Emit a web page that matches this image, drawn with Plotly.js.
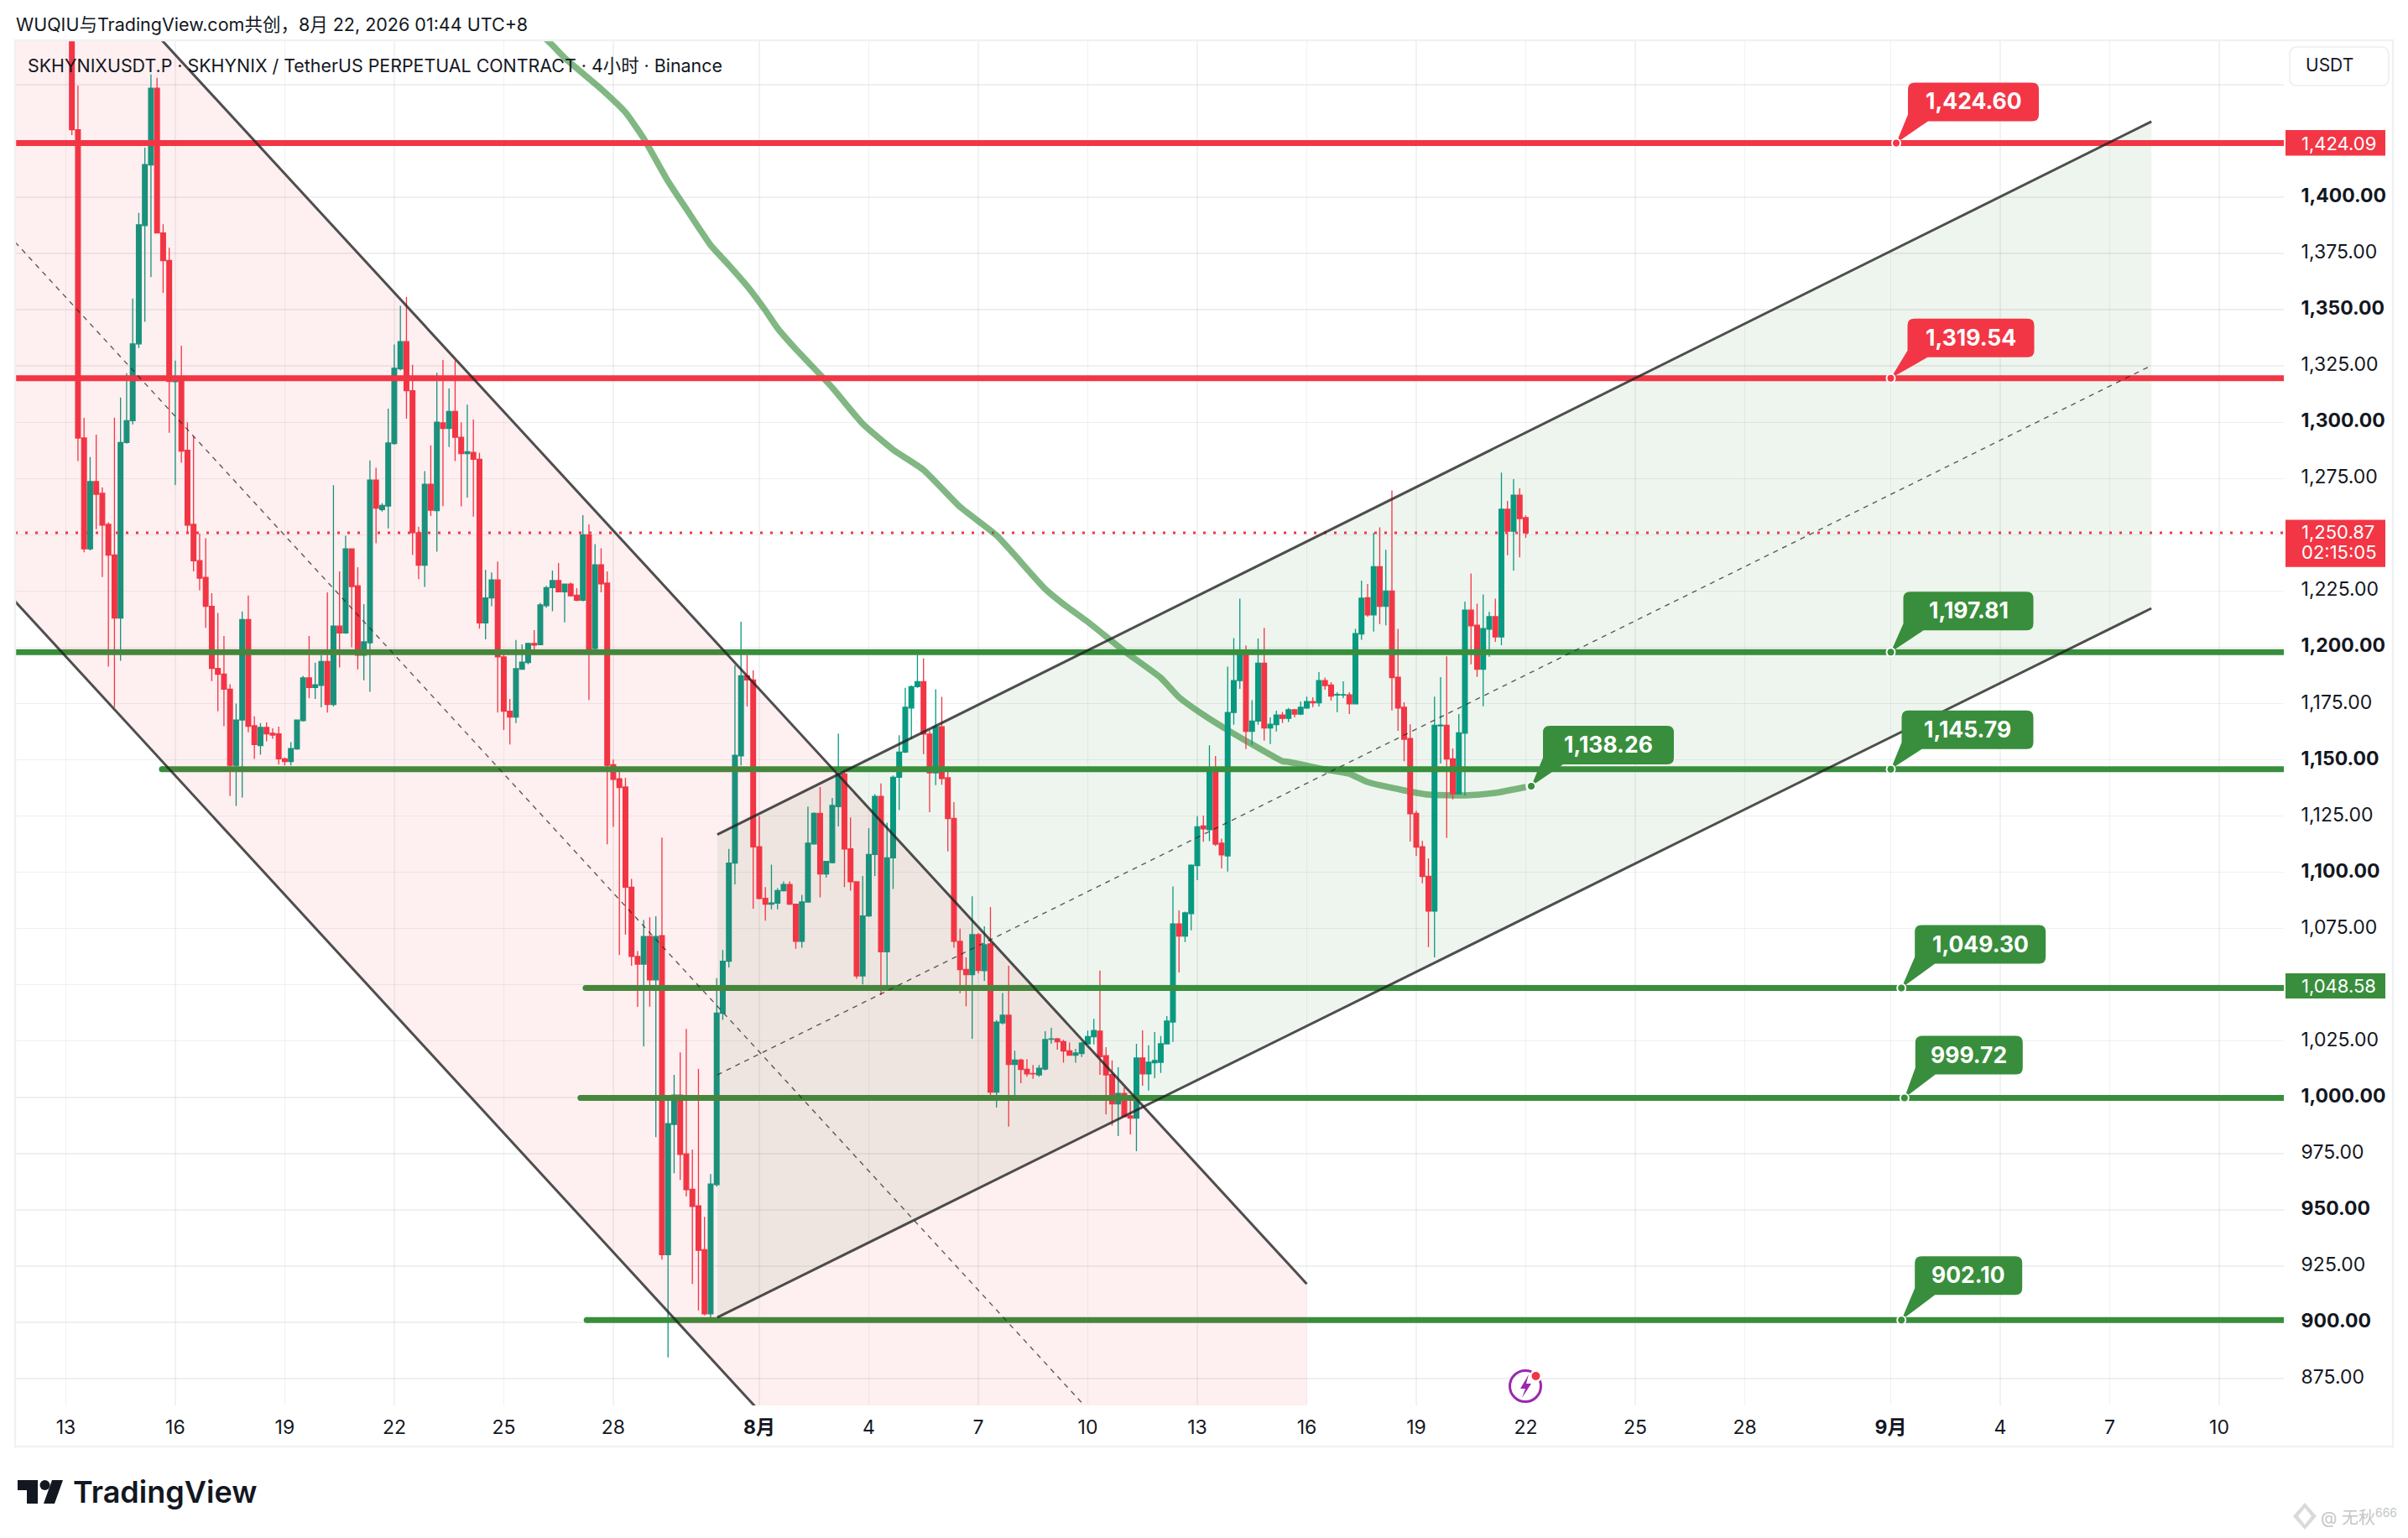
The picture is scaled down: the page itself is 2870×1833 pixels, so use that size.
<!DOCTYPE html>
<html>
<head>
<meta charset="utf-8">
<script src="https://cdn.plot.ly/plotly-3.0.1.min.js"></script>
<style>html,body{margin:0;padding:0;background:#fff}#c{width:2870px;height:1833px}</style>
</head>
<body>
<div id="c"></div>
<script>
// ---- data ----
const firstBar = "2026-07-13T04:00:00Z";
const open = [1500,1430,1293,1243.7,1273.6,1268.4,1254.6,1241,1213,1291,
1300.7,1334.8,1387.4,1414.3,1448.4,1384.1,1371.9,1318,1318.4,1287.5,
1254.6,1238.5,1231,1218.2,1190.6,1188.1,1181.4,1147.5,1167.7,1212.3,
1165.1,1156.3,1164.4,1161.8,1161.5,1150.4,1149.2,1154.8,1167.4,1186.4,
1182.1,1183.1,1193.7,1174.6,1209.4,1206.4,1243.7,1227.3,1196.5,1202,
1274.3,1261.2,1262.8,1290.5,1323.7,1335.8,1314,1250.9,1236.5,1272.4,
1260.7,1299.7,1297.2,1304.8,1293.3,1286.1,1286.6,1283.5,1210.8,1221.9,
1229.9,1195.7,1171.6,1169,1190.2,1193.2,1201.7,1201.1,1218.5,1226.5,
1229.6,1224.6,1228.1,1223.1,1220.9,1250,1199.5,1236.6,1228.5,1147.8,
1141.6,1137.9,1093.4,1062.6,1059.2,1071.5,1052.2,1071.8,930.1,988,
1001,974.9,959.1,951.8,932.3,903.8,961.2,1037.4,1060.5,1104.1,
1151.7,1187.3,1185.5,1111.4,1088.4,1085.8,1086.3,1091.8,1094.6,1085.8,
1069.3,1086.8,1112.6,1126.2,1099.3,1104.3,1129.2,1143.7,1110.4,1095.8,
1054,1080.6,1107.9,1133.7,1064.7,1106.4,1142.2,1153.4,1173,1182.5,
1184.7,1161.4,1144.2,1164.7,1142,1123.9,1069.3,1056.8,1054.5,1072.3,
1056.3,1068.2,1002.3,1033.1,1036.5,1014.6,1016.6,1012.5,1010.6,1010,
1012.6,1025.8,1026,1024.8,1020.7,1018.7,1019.5,1023.8,1026.9,1029.4,
1018.5,1010.1,997.1,1001.7,991.8,990.8,1017.5,1010.4,1015.4,1015.6,
1023.8,1033.5,1077.1,1071.7,1081.6,1103,1120.6,1118.9,1145,1112.9,
1107.3,1171,1185.2,1196.7,1162.6,1167.2,1192.9,1164.1,1165.6,1169.9,
1168.4,1172.2,1170.3,1173,1175.9,1175.3,1185.2,1183.2,1178.8,1178.8,
1178.8,1174.9,1205.9,1222,1214.4,1235.8,1218.2,1225,1186.7,1173.3,
1159.5,1126.2,1111.4,1098.2,1082.8,1165.1,1165.3,1150.4,1134.9,1161.8,
1216.5,1209.8,1190.2,1208,1213.6,1204.6,1261.3,1251.6,1267.6,1257.6];
const high = [1510,1449.6,1301.9,1284.5,1294.5,1271,1255.5,1302,1311,1321.8,
1355,1393,1422,1454.6,1453,1388,1377.5,1327.4,1334,1300,
1293.8,1250.6,1248.4,1224,1215.3,1205,1183.6,1175,1215.9,1223,
1169.3,1166.3,1166.6,1164,1164.7,1151,1157.8,1167.7,1187.3,1205,
1193.2,1196.4,1224.4,1272,1233.7,1249.6,1244,1235.6,1219.2,1283,
1279.8,1264,1306,1334.6,1351.7,1355.7,1325.5,1253.6,1278.3,1289.7,
1322,1327.7,1315,1327.4,1300,1307.8,1301.2,1286.4,1234.4,1233.2,
1238.1,1197,1177,1203.2,1201.3,1202,1207.6,1219.7,1227.3,1234.1,
1237.4,1228.1,1228.8,1226.3,1258.7,1254.6,1245.8,1244,1233.7,1150.1,
1145.3,1142,1097.1,1065,1078.8,1080,1080.5,1115.4,1001,1010,
1020,1030.4,976.8,1012.6,946.9,965.9,1053,1065.5,1110.4,1192,
1211.3,1196.6,1189.7,1125,1093.4,1103.4,1093,1095.9,1095.9,1086,
1090,1129.2,1126.7,1137.9,1105,1133,1161.7,1145,1124.4,1096,
1098.4,1119.6,1134.7,1139.5,1122,1143,1160.9,1182,1183,1196.6,
1195,1163,1181.3,1178,1145,1131.2,1075,1062.2,1089.3,1073,
1076,1084.6,1034.3,1046.4,1058.5,1020.7,1017.2,1017,1014.4,1014.4,
1029.4,1030.9,1026.4,1025.6,1024.4,1021.6,1024.6,1029.7,1034.9,1056.3,
1022.3,1016.4,1013.4,1004.4,1000,1023.8,1029.8,1023.1,1029,1027.2,
1036.1,1093.7,1083.1,1082.5,1103.5,1124.9,1125.2,1156.4,1151.7,1115,
1191.4,1204.1,1221.6,1200.8,1176.5,1203.9,1208.6,1168.8,1171.8,1171.3,
1173,1172.6,1175.9,1178.1,1177.8,1189,1186.5,1184.5,1180,1184.9,
1180,1208.2,1229.6,1228.1,1250.9,1253.3,1243.3,1269.7,1208.2,1175.5,
1165.8,1127.4,1114,1106.2,1178.1,1186.7,1196,1155,1170.3,1220.3,
1232.8,1219.4,1223.5,1215.7,1221.6,1277.6,1265,1274.7,1270.6,1258.6];
const low = [1427.6,1282.7,1242.2,1243,1252.4,1231.2,1191.4,1173.4,1194,1290.5,
1299,1333,1344.6,1364.5,1384,1357.5,1295.3,1272.1,1282,1250.6,
1233.7,1225.3,1208.6,1185,1171.5,1164.9,1133.9,1129.5,1133.2,1162.2,
1150.4,1152.2,1158.2,1159.3,1147.9,1147.5,1147.5,1154.5,1167,1177.4,
1177,1173.3,1171,1173.7,1191,1206,1200,1190.2,1185.3,1180.2,
1246.2,1260.3,1252.8,1290,1323,1301.6,1241,1230.3,1226.8,1258.3,
1242.5,1262.7,1289,1282.7,1262.6,1266.5,1258,1208.3,1203.5,1218.2,
1171,1163.2,1156.8,1166.3,1190,1192.4,1199,1201,1217.6,1216,
1224.4,1211.1,1222.5,1220.5,1220.4,1176.6,1199,1224.4,1112.4,1120.2,
1063.2,1072.3,1058.5,1040.2,1022.7,1040.3,982.3,927.9,884.4,966.3,
963.3,955.9,917.1,905.3,903.1,902.2,960.3,1034.4,1057.7,1094.6,
1147.5,1173.7,1083.8,1088,1078.5,1083.5,1083.5,1091.5,1085.5,1066,
1066.5,1086.5,1112.3,1088.9,1097.6,1104,1120.4,1093.4,1091.8,1052.7,
1050.2,1080.2,1098.4,1045.5,1049.8,1092.6,1127.6,1153,1159.2,1182,
1152.5,1126.7,1138.7,1138.9,1109.3,1066.5,1046.3,1040.5,1026,1055,
1051.8,1000.5,995.5,1032.4,987,1000.5,1006.3,1009.2,1008.2,1009.2,
1012,1023.8,1021.2,1015.4,1018.5,1015.4,1017.9,1023.5,1023.5,1010,
992.4,987.4,982.8,991.2,983.5,976.1,1005.2,1003,1008.5,1010.8,
1023.5,1024.6,1055.5,1069,1074.2,1096.5,1113.6,1113.8,1111.7,1101.7,
1100.3,1165.6,1181.5,1154.8,1156.6,1165.6,1158.5,1157,1162.6,1166.3,
1166.8,1168.8,1169.9,1172.6,1173.4,1173.7,1181.1,1176.3,1171.2,1177.4,
1170.3,1174.6,1203.3,1213.6,1207,1210.3,1209.8,1171.9,1162.9,1149.4,
1113.7,1107.3,1095.1,1066.8,1062.2,1148.3,1115.2,1132.4,1134.5,1134.2,
1192.4,1186.8,1173.8,1195.8,1202.4,1200.9,1240.9,1234.1,1240,1248.6];
const close = [1430,1293,1243.7,1273.6,1268,1254.3,1240.9,1213,1291,1300.7,
1334.8,1387.7,1414.5,1448.4,1384.1,1371.8,1318.1,1318.4,1287.2,1254.3,
1238.4,1230.7,1218.2,1190.6,1188,1181.4,1147.5,1167.7,1212.3,1164.9,
1156.8,1164.4,1161.5,1161,1150.4,1149.2,1155,1167.7,1186.4,1182.1,
1183.3,1193.7,1174.6,1209.4,1206.4,1243.7,1227,1196.5,1202.4,1274.3,
1261.8,1263,1290.8,1324,1335.8,1314,1250.9,1236.5,1272.4,1260.9,
1300,1297.2,1304.8,1293.3,1286.1,1286.9,1283.5,1210.8,1221.9,1229.9,
1195.7,1171.6,1169,1190.5,1193.4,1201.7,1201,1218.8,1226.5,1229.6,
1224.6,1228.1,1222.9,1220.9,1250,1199,1236.6,1228.2,1147.5,1141.3,
1137.7,1093.4,1062.6,1059.2,1071.5,1052.2,1071.5,930.1,988.3,1001,
974.6,959,951.5,932,903.8,961.5,1037.4,1060.5,1104.1,1152,
1187.3,1185.5,1111.3,1088.4,1085.8,1086.4,1091.9,1094.6,1085.8,1069.3,
1086.8,1112.9,1126.2,1099.3,1104.8,1129.7,1143.7,1110.4,1095.8,1054,
1080.6,1107.9,1133.7,1064.7,1106.4,1142.2,1153.4,1173.3,1182.5,1184.7,
1161.4,1144.2,1164.7,1141.7,1123.9,1069.3,1056.8,1054.5,1072.3,1056.4,
1067.8,1002.3,1033.4,1036.5,1014.6,1016.6,1012.4,1010.4,1010.4,1012.9,
1025.7,1026,1024.7,1020.6,1018.7,1019.7,1024.1,1027,1029.7,1018.1,
1010,997.1,1001.7,991.4,990.8,1017.5,1010.4,1015.6,1016.4,1023.8,
1033.9,1077.1,1071.7,1082,1103.2,1120.2,1119.3,1145.5,1112.5,1107.7,
1171,1185.2,1197,1162.6,1167.2,1192.9,1164.1,1165.8,1169.9,1168.4,
1172.2,1170.3,1173.3,1175.9,1175.3,1185.2,1183,1178.3,1179,1178.9,
1174.9,1206.1,1221.8,1214.4,1235.8,1218.2,1225,1186.5,1173,1159.1,
1126,1111.2,1098.1,1082.8,1165.3,1165.4,1150.3,1134.9,1162,1216.5,
1209.5,1190.2,1208.3,1213.6,1204.6,1261.3,1251.6,1267.6,1257.2,1250.87];

const maSlots  = [78,80,82,88,92,95,99,102,106,109,112,115,117,120,126,131,136,141,147,153,161,164,168,174,180,183,187,191,195,200,201,207,211,214,220,224,230,235,240];
const maValues = [1472.7,1467.5,1461.9,1448.1,1437.7,1426.1,1407.1,1394.8,1378.7,1369.8,1360.5,1349.7,1341.8,1332.5,1315.4,1299.3,1287.8,1278.8,1262.4,1249.7,1225.9,1219.2,1211.3,1198.3,1186.4,1177.8,1170,1163.2,1156.9,1149.4,1149.1,1145.7,1143.8,1140.1,1136.4,1134.5,1134.2,1135.3,1137.9];

const priceTicks = [1450,1425,1400,1375,1350,1325,1300,1275,1250,1225,1200,1175,1150,1125,1100,1075,1050,1025,1000,975,950,925,900,875];
const coveredTicks = [1450,1425,1250,1050];
const dateTicks = ["2026-07-13","2026-07-16","2026-07-19","2026-07-22","2026-07-25","2026-07-28","2026-08-01","2026-08-04","2026-08-07","2026-08-10","2026-08-13","2026-08-16","2026-08-19","2026-08-22","2026-08-25","2026-08-28","2026-09-01","2026-09-04","2026-09-07","2026-09-10"];
const dateLabels = ["13","16","19","22","25","28","<b>8月</b>","4","7","10","13","16","19","22","25","28","<b>9月</b>","4","7","10"];

const levelPrices = [1424.09,1319.54,1197.81,1145.79,1048.58,999.72,901.0];
const levelStarts = [null,null,null,"2026-07-15 15:10","2026-07-27 05:46","2026-07-27 02:24","2026-07-27 06:29"];
const calloutLabels = ["1,424.60","1,319.54","1,197.81","1,145.79","1,138.26","1,049.30","999.72","902.10"];
const calloutDates  = ["2026-09-01 03:36","2026-09-01 00:00","2026-09-01 00:00","2026-09-01 00:00","2026-08-22 03:36","2026-09-01 07:00","2026-09-01 09:00","2026-09-01 07:00"];
const calloutPrices = [1424.09,1319.54,1197.81,1145.79,1138.26,1048.58,999.72,901.0];
const calloutIsRed  = [true,true,false,false,false,false,false,false];

const lastPrice = 1250.87;
const xLeft = "2026-07-11 14:40", xRight = "2026-09-11 18:28";
const yRange = [863.1,1469.35];
const downStart="2026-07-11 14:40", downEnd="2026-08-16 00:00";
const upStart="2026-07-30 20:24", upEnd="2026-09-08 03:24";
const downUpper=[1540.6,917.1], downMid=[1380.05,755.5], downLower=[1220.4,595.9];
const upUpper=[1116.8,1433.6], upMid=[1010,1325.2], upLower=[902.2,1217.3];

// ---- styles ----
const RED="#F23645", GREEN="#388E3C", TEAL="#089981", FONT='Inter, "Noto Sans CJK SC", sans-serif';
const W=2870,H=1833,PL=18,PR=2722,PT=49,PB=1675;
const px=x=>(x-PL)/(PR-PL), py=y=>(PB-y)/(PB-PT);
const t0=new Date(firstBar).getTime();
const stamp=i=>new Date(t0+(i-1)*4*3600e3).toISOString().slice(0,19).replace("T"," ");
const barDates=open.map((_,k)=>stamp(k+1));
const maDates=maSlots.map(stamp);
const u=s=>s.replace(" ","_");

const shapes=[];
const poly=(xa,xb,top,bot)=>`M${u(xa)},${top[0]}L${u(xb)},${top[1]}L${u(xb)},${bot[1]}L${u(xa)},${bot[0]}Z`;
// green channel sits under the candles
shapes.push({type:"path",xref:"x",yref:"y",layer:"below",path:poly(upStart,upEnd,upUpper,upLower),fillcolor:"rgba(56,142,60,0.085)",line:{width:0}});
// last price line
shapes.push({type:"line",xref:"x",yref:"y",layer:"below",x0:xLeft,x1:xRight,y0:lastPrice,y1:lastPrice,line:{color:RED,width:2.8,dash:"3px,9px"}});
// level lines
levelPrices.forEach((p,k)=>{
  const c=k<2?RED:GREEN, s=levelStarts[k]||xLeft;
  shapes.push({type:"line",xref:"x",yref:"y",layer:"above",x0:s,x1:xRight,y0:p,y1:p,line:{color:c,width:7}});
  if(levelStarts[k]) shapes.push({type:"circle",xref:"x",yref:"y",layer:"above",xsizemode:"pixel",ysizemode:"pixel",xanchor:s,yanchor:p,x0:-3.5,x1:3.5,y0:-3.5,y1:3.5,fillcolor:c,line:{width:0}});
});
// red channel tints what lies beneath it
shapes.push({type:"path",xref:"x",yref:"y",layer:"above",path:poly(downStart,downEnd,downUpper,downLower),fillcolor:"rgba(242,54,69,0.08)",line:{width:0}});
const chan=(xa,xb,v,dash)=>shapes.push({type:"line",xref:"x",yref:"y",layer:"above",x0:xa,x1:xb,y0:v[0],y1:v[1],line:{color:dash?"rgba(40,40,40,0.75)":"rgba(35,35,35,0.8)",width:dash?1.4:3,dash:dash?"6px,6px":"solid"}});
chan(downStart,downEnd,downUpper);chan(downStart,downEnd,downLower);chan(downStart,downEnd,downMid,true);
chan(upStart,upEnd,upUpper);chan(upStart,upEnd,upLower);chan(upStart,upEnd,upMid,true);

const ann=[];
const note=(x,y,text,size,color,extra)=>ann.push(Object.assign({xref:"paper",yref:"paper",x:px(x),y:py(y),text,showarrow:false,xanchor:"left",yanchor:"middle",font:{family:FONT,size,color},borderpad:0},extra||{}));

// callouts (label geometry is in screen pixels from the anchor point)
const cLeft=[14,20,15,13,14,16,13,16], cWide=[156,151,155,157,156,156,128,128], cBase=[26,25,26,24,26,29,28,30], cTall=46, rad=8;
calloutLabels.forEach((lab,k)=>{
  const c=calloutIsRed[k]?RED:GREEN,l=cLeft[k],R=l+cWide[k],b=cBase[k],t=b+cTall;
  const path=`M${l},${t-rad}Q${l},${t} ${l+rad},${t}L${R-rad},${t}Q${R},${t} ${R},${t-rad}L${R},${b+rad}Q${R},${b} ${R-rad},${b}L${l+24},${b}L0,0L${l},${b+8}Z`;
  shapes.push({type:"path",xref:"x",yref:"y",layer:"above",xsizemode:"pixel",ysizemode:"pixel",xanchor:calloutDates[k],yanchor:calloutPrices[k],path,fillcolor:c,line:{width:0}});
  shapes.push({type:"circle",xref:"x",yref:"y",layer:"above",xsizemode:"pixel",ysizemode:"pixel",xanchor:calloutDates[k],yanchor:calloutPrices[k],x0:-5,x1:5,y0:-5,y1:5,fillcolor:c,line:{color:"#fff",width:2}});
  ann.push({xref:"x",yref:"y",x:calloutDates[k],y:calloutPrices[k],xshift:l+cWide[k]/2,yshift:b+cTall/2+1,text:lab,showarrow:false,xanchor:"center",yanchor:"middle",font:{family:FONT,size:26.5,color:"#fff",weight:700}});
});

const rectPx=(x0,y0,x1,y1,opt)=>shapes.push(Object.assign({type:"rect",xref:"paper",yref:"paper",layer:"above",x0:px(x0),x1:px(x1),y0:py(y0),y1:py(y1),line:{width:0}},opt));
const circPx=(cx,cy,r,opt)=>shapes.push(Object.assign({type:"circle",xref:"paper",yref:"paper",layer:"above",x0:px(cx-r),x1:px(cx+r),y0:py(cy-r),y1:py(cy+r),line:{width:0}},opt));
const pathPx=(pts,fill)=>shapes.push({type:"path",xref:"paper",yref:"paper",layer:"above",path:"M"+pts.map(p=>px(p[0])+","+py(p[1])).join("L")+"Z",fillcolor:fill,line:{width:0}});

// frame
rectPx(18,48,2852,1724,{fillcolor:"rgba(0,0,0,0)",line:{color:"#F0F1F3",width:2.5}});
// price axis tags
rectPx(2724,155,2843,185.5,{fillcolor:RED});
note(2742,170.5,"1,424.09",22,"#fff");
rectPx(2724,619.5,2843,675.7,{fillcolor:RED});
note(2742,634.5,"1,250.87",22,"#fff");
note(2742,658,"02:15:05",22,"#fff");
rectPx(2724,1160,2843,1190,{fillcolor:GREEN});
note(2742,1175,"1,048.58",22,"#fff");
// USDT box
shapes.push({type:"path",xref:"paper",yref:"paper",layer:"above",fillcolor:"#fff",line:{color:"#ECEEF2",width:1.6},
 path:(()=>{const l=2729,r=2847,t=56,b=102,q=9;const P=(x,y)=>px(x)+","+py(y);return `M${P(l+q,t)}L${P(r-q,t)}Q${P(r,t)} ${P(r,t+q)}L${P(r,b-q)}Q${P(r,b)} ${P(r-q,b)}L${P(l+q,b)}Q${P(l,b)} ${P(l,b-q)}L${P(l,t+q)}Q${P(l,t)} ${P(l+q,t)}Z`;})()});
note(2747,78,"USDT",21,"#131722");
// header texts
note(18,29,"WUQIU与TradingView.com共创，8月 22, 2026 01:44 UTC+8",21.5,"#131722");
note(32,77.5,"SKHYNIXUSDT.P · SKHYNIX / TetherUS PERPETUAL CONTRACT · 4小时 · Binance",21.4,"#131722");
// TradingView mark
pathPx([[21,1764],[45,1764],[45,1792],[32,1792],[32,1776],[21,1776]],"#131722");
circPx(53.5,1770,6,{fillcolor:"#131722"});
pathPx([[62,1764],[75,1764],[65,1792],[52,1792]],"#131722");
note(86,1778,"TradingView",36,"#131722",{font:{family:FONT,size:36,color:"#131722",weight:600}});
// flash icon
circPx(1818,1652,18.5,{fillcolor:"#fff",line:{color:"#9C27B0",width:3}});
pathPx([[1822,1638],[1812,1655],[1818,1655],[1814,1666],[1825,1649],[1819,1649]],"#9C27B0");
circPx(1830.5,1640,7.5,{fillcolor:"#fff"});
circPx(1830.5,1640,5,{fillcolor:RED});
// watermark
pathPx([[2747,1791],[2761,1807],[2747,1823],[2733,1807]],"#DADADA");
pathPx([[2747,1797],[2755,1807],[2747,1817],[2739,1807]],"#fff");
note(2765,1807,"@ 无秋<sup>666</sup>",20,"#C4C7C5");

const yLabels=priceTicks.map(v=>{
  if(coveredTicks.includes(v)) return "\u00a0";
  const s=v.toLocaleString("en-US",{minimumFractionDigits:2,maximumFractionDigits:2});
  return v%50===0?`<b>${s}</b>`:s;
});

const ma={type:"scatter",mode:"lines",x:maDates,y:maValues,xaxis:"x",yaxis:"y",line:{color:"rgba(56,142,60,0.64)",width:7.5,shape:"spline",smoothing:0.5},hoverinfo:"skip"};
const bars={type:"candlestick",x:barDates,open,high,low,close,xaxis:"x",yaxis:"y2",whiskerwidth:0,
 increasing:{line:{color:TEAL,width:1.3},fillcolor:TEAL},decreasing:{line:{color:RED,width:1.3},fillcolor:RED},hoverinfo:"skip"};

const layout={
 width:W,height:H,paper_bgcolor:"#fff",plot_bgcolor:"#fff",showlegend:false,
 margin:{l:PL,r:W-PR,t:PT,b:H-PB,pad:0},boxgap:0.13,boxgroupgap:0.1,font:{family:FONT,size:23,color:"#131722"},
 xaxis:{type:"date",range:[xLeft,xRight],tickmode:"array",tickvals:dateTicks,ticktext:dateLabels,ticks:"outside",ticklen:5,tickcolor:"rgba(0,0,0,0)",
   showgrid:true,gridcolor:"rgba(20,30,50,0.06)",gridwidth:1.2,zeroline:false,showline:false,rangeslider:{visible:false},tickfont:{family:FONT,size:23,color:"#131722"}},
 yaxis:{range:yRange,side:"right",tickmode:"array",tickvals:priceTicks,ticktext:yLabels,ticks:"outside",ticklen:15,tickcolor:"rgba(0,0,0,0)",ticklabelshift:-2,
   showgrid:true,gridcolor:"rgba(20,30,50,0.065)",gridwidth:1.4,zeroline:false,showline:false,tickfont:{family:FONT,size:23,color:"#131722"}},
 yaxis2:{range:yRange,overlaying:"y",side:"right",visible:false,showgrid:false,zeroline:false},
 shapes,annotations:ann
};
Plotly.newPlot("c",[ma,bars],layout,{displayModeBar:false,staticPlot:true,responsive:false});
</script>
</body>
</html>
